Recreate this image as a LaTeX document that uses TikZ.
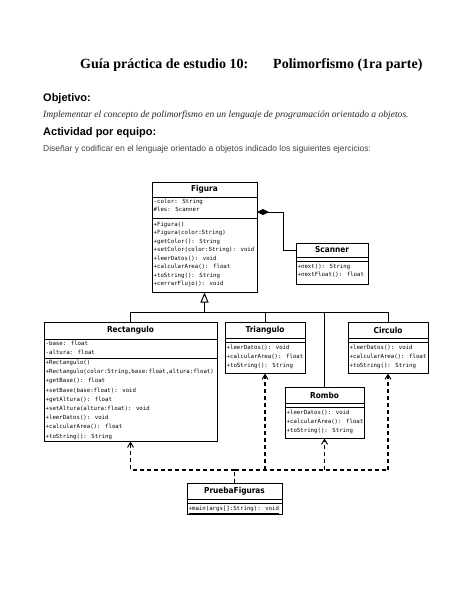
\documentclass[tikz,border=0pt]{standalone}
\usepackage{fontspec}
\setmainfont{Liberation Serif}
\setsansfont{Liberation Sans}
\newfontfamily\memberfont{DejaVu Sans Mono}
\newfontfamily\classfont{DejaVu Sans}[FakeStretch=0.9]
\usetikzlibrary{arrows.meta,fit}
\newcommand\classframe[8]{%
  \path (#2,#3) coordinate (#1-nw) (#4,#5) coordinate (#1-se);
  \node[classbox, fit=(#1-nw)(#1-se)] (#1) {};
  \draw[sepline] (#2,#6) -- (#4,#6);
  \draw[sepline] (#2,#7) -- (#4,#7);
  \node[ctitle] (#1-t) at ({(#2+#4)/2},{(#3+#6)/2}) {#8};
}
\begin{document}
\begin{tikzpicture}[x=1pt,y=-1pt,
  classbox/.style={draw, line width=1pt, fill=white, inner sep=0pt},
  sepline/.style={line width=1pt},
  ctitle/.style={font=\classfont\bfseries\fontsize{8.2}{9}\selectfont, inner sep=0pt},
  members/.style={font=\memberfont\fontsize{5.7}{8.8}\selectfont, align=left, anchor=north west, inner sep=0pt},
  gen/.style={line width=1pt},
  dep/.style={line width=1.1pt, dash pattern=on 4pt off 3pt},
  deparrow/.style={dep, -{Straight Barb[length=5pt,width=6pt,line width=1pt]}},
  hd/.style={inner sep=0pt, anchor=base west}
]
\useasboundingbox[fill=white] (0,0) rectangle (474,613);

% header
\node[hd, font=\bfseries\fontsize{14}{16}\selectfont] (title1) at (80,68) {Guía práctica de estudio 10:};
\node[hd, font=\bfseries\fontsize{14}{16}\selectfont] (title2) at (273,68) {Polimorfismo (1ra parte)};
\node[hd, font=\sffamily\bfseries\fontsize{11}{13}\selectfont] (obj) at (43,101) {Objetivo:};
\node[hd, font=\itshape\fontsize{9.55}{11}\selectfont, text=black!85] (objtxt) at (43,117) {Implementar el concepto de polimorfismo en un lenguaje de programación orientado a objetos.};
\node[hd, font=\sffamily\bfseries\fontsize{11}{13}\selectfont] (act) at (43,135) {Actividad por equipo:};
\node[hd, font=\sffamily\fontsize{8.5}{10}\selectfont, text=black!75] (acttxt) at (43,151) {Diseñar y codificar en el lenguaje orientado a objetos indicado los siguientes ejercicios:};

% classes
\classframe{fig}{152}{182}{257}{292}{197}{218}{Figura}
\node[members] (fig-a) at (153.5,198.5) {-color: String\\\#les: Scanner};
\node[members, font=\memberfont\fontsize{5.7}{8.5}\selectfont] (fig-m) at (153.5,221.5) {+Figura()\\+Figura(color:String)\\+getColor(): String\\+setColor(color:String): void\\+leerDatos(): void\\+calcularArea(): float\\+toString(): String\\+cerrarFlujo(): void};

\classframe{scan}{296}{243}{368}{284}{257}{261}{Scanner}
\node[members, font=\memberfont\fontsize{5.7}{8.4}\selectfont] (scan-m) at (297.5,263.5) {+next(): String\\+nextFloat(): float};

\classframe{rect}{44}{322}{217}{441}{339}{358}{Rectangulo}
\node[members, font=\memberfont\fontsize{5.7}{9}\selectfont] (rect-a) at (45.5,340.5) {-base: float\\-altura: float};
\node[members, font=\memberfont\fontsize{5.7}{9.2}\selectfont] (rect-m) at (45.5,360) {+Rectangulo()\\+Rectangulo(color:String,base:float,altura:float)\\+getBase(): float\\+setBase(base:float): void\\+getAltura(): float\\+setAltura(altura:float): void\\+leerDatos(): void\\+calcularArea(): float\\+toString(): String};

\classframe{tri}{225}{322}{305}{373}{338}{342}{Triangulo}
\node[members] (tri-m) at (226.5,345) {+leerDatos(): void\\+calcularArea(): float\\+toString(): String};

\classframe{circ}{348}{322}{428}{373}{338}{342}{Circulo}
\node[members] (circ-m) at (349.5,345) {+leerDatos(): void\\+calcularArea(): float\\+toString(): String};

\classframe{rombo}{285}{387}{364}{438}{403}{407}{Rombo}
\node[members] (rombo-m) at (286.5,410) {+leerDatos(): void\\+calcularArea(): float\\+toString(): String};

\classframe{pf}{187}{483}{282}{514}{499}{503}{PruebaFiguras}
\node[members] (pf-m) at (188.5,506) {\underline{+main(args[]:String): void}};

% generalization
\coordinate (bus) at (204.5,312);
\draw[gen, -{Triangle[open,length=10pt,width=8pt,line width=1pt]}] (bus) -- (fig.south);
\draw[gen] (rect.north) |- (bus);
\draw[gen] (circ.north) |- (bus);
\draw[gen] (tri.north) -- (tri.north |- bus);
\draw[gen] (rombo.north) -- (rombo.north |- bus);

% composition
\coordinate (figcomp) at (257,212);
\coordinate (scanin) at (296,250);
\coordinate (compbend) at (283,250);
\draw[gen, {Diamond[length=12pt,width=6pt]}-] (figcomp) -| (compbend) -- (scanin);

% dependencies
\coordinate (depbus) at (234.5,470);
\draw[dep] (pf.north) -- (depbus);
\draw[deparrow] (depbus) -| (rect.south);
\draw[deparrow] (depbus) -| (circ.south);
\draw[deparrow] (tri.south |- depbus) -- (tri.south);
\draw[deparrow] (rombo.south |- depbus) -- (rombo.south);
\end{tikzpicture}
\end{document}
